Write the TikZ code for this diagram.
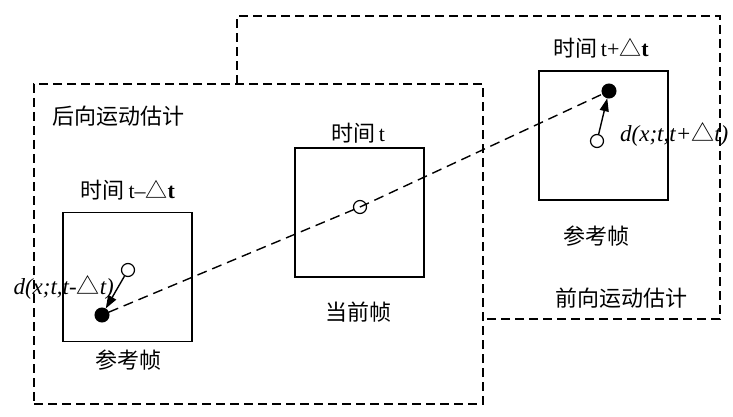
\documentclass[tikz,border=0pt]{standalone}
\usepackage{fontspec}
\setmainfont{Liberation Serif}
\newfontfamily\cjk{Noto Sans CJK SC}
\usetikzlibrary{arrows.meta}
\begin{document}
\begin{tikzpicture}[x=1pt,y=-1pt,
  frame/.style={draw, line width=1.5pt, minimum width=129pt, minimum height=129pt, inner sep=0pt},
  region/.style={draw, line width=1.4pt, dash pattern=on 9pt off 5pt},
  link/.style={line width=1.4pt, dash pattern=on 10pt off 6pt},
  hollow/.style={circle, draw, line width=1.2pt, minimum size=13pt, inner sep=0pt},
  blackdot/.style={circle, draw, fill=black, line width=1pt, minimum size=14pt, inner sep=0pt},
  lbl/.style={font=\cjk\fontsize{22}{22}\selectfont, inner sep=0pt},
  mvec/.style={-{Triangle[length=13pt,width=9pt]}, line width=1.4pt},
  dlabel/.style={font=\fontsize{23}{23}\selectfont\itshape, inner sep=0pt}
]
\useasboundingbox (0,0) rectangle (733,417);
% regions
\node[region, minimum width=449pt, minimum height=320pt, inner sep=0pt] (back) at (258.5,244) {};
\coordinate (f1) at (237,84);
\coordinate (f2) at (237,16);
\coordinate (f3) at (720,16);
\coordinate (f4) at (720,319);
\coordinate (f5) at (483,319);
\draw[region] (f1) -- (f2) -- (f3) -- (f4) -- (f5);
\node[lbl, anchor=west] (backlbl) at (52,116) {后向运动估计};
\node[lbl] (fwdlbl) at (621,298) {前向运动估计};
% frames
\node[frame] (lfr) at (127.5,277) {};
\node[frame] (mfr) at (359.5,212.5) {};
\node[frame] (rfr) at (603.5,135.5) {};
\node[lbl] (ltime) at (128,190) {时间\,{\rmfamily t–}△{\rmfamily\bfseries t}};
\node[lbl] (lref) at (128,360) {参考帧};
\node[lbl] (mtime) at (358,133) {时间\,{\rmfamily t}};
\node[lbl] (mcur) at (358,312) {当前帧};
\node[lbl] (rtime) at (601,48) {时间\,{\rmfamily t+}△{\rmfamily\bfseries t}};
\node[lbl] (rref) at (596,236) {参考帧};
% points
\node[hollow, fill=white] (lo) at (128,270) {};
\node[blackdot] (lf) at (102,315) {};
\node[hollow] (mc) at (360,207) {};
\node[blackdot] (rf) at (609,91) {};
\node[hollow, fill=white] (ro) at (597,141) {};
% connectors
\draw[link] (lf) -- (mc.center) -- (rf);
\draw[mvec] (lo) -- (lf);
\draw[mvec] (ro) -- (rf);
\node[dlabel, anchor=east] (ld) at (114,287) {d(x;t,t-{\upshape\cjk △}t)};
\node[dlabel, anchor=west] (rd) at (620,134) {d(x;t,t+{\upshape\cjk △}t)};
\end{tikzpicture}
\end{document}
